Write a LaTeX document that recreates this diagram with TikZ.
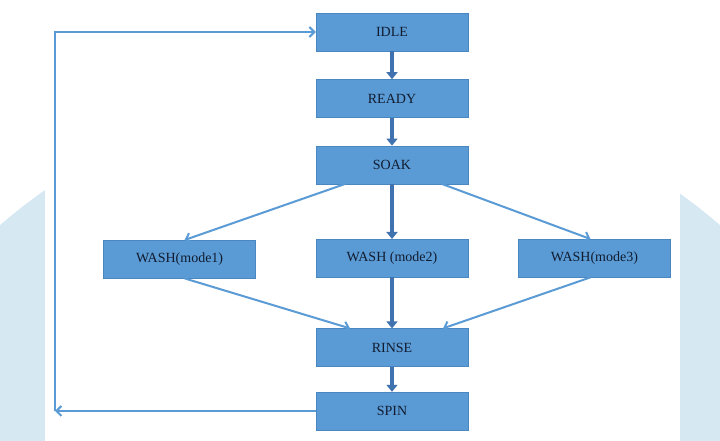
\documentclass[tikz,border=0pt]{standalone}
\usepackage{fontspec}
\setmainfont{Liberation Serif}
\usetikzlibrary{positioning}
\usetikzlibrary{arrows.meta}
\definecolor{boxblue}{HTML}{5B9BD5}
\definecolor{boxedge}{HTML}{4A86C0}
\definecolor{arrowblue}{HTML}{3F72AF}
\definecolor{textnavy}{HTML}{111C30}
\definecolor{pale}{HTML}{D6E8F1}

\begin{document}
\begin{tikzpicture}[x=1pt, y=1pt, node distance=28pt,
  every node/.style={draw=boxedge, fill=boxblue, text=textnavy, minimum width=152pt, minimum height=38pt, inner sep=0pt, font=\fontsize{14}{16}\selectfont},
  thick arrow/.style={draw=arrowblue, line width=4pt, -{Triangle[length=7pt, width=11pt]}},
  thin arrow/.style={draw=boxblue, line width=2pt, -{Straight Barb[length=5pt, width=10pt]}}]

  % Background
  \useasboundingbox (0,0) rectangle (720,441);
  \begin{scope}
    \clip (0,0) rectangle (720,441);
    \fill[pale] (360,-200) circle (550);
    \fill[white] (45,0) rectangle (680,431);
  \end{scope}

  % Nodes
  \node (idle) at (392,409) {IDLE};
  \node (ready) [below=of idle] {READY};
  \node (soak) [below=of ready] {SOAK};
  \node (wash2) [below=55pt of soak] {WASH (mode2)};
  \node (wash1) [left=60pt of wash2, yshift=-1pt] {WASH(mode1)};
  \node (wash3) [right=50pt of wash2] {WASH(mode3)};
  \node (rinse) [below=51pt of wash2] {RINSE};
  \node (spin) [below=25pt of rinse] {SPIN};

  % Arrows
  \draw[thick arrow] (idle) -- (ready);
  \draw[thick arrow] (ready) -- (soak);
  \draw[thick arrow] (soak) -- (wash2);
  \draw[thick arrow] (wash2) -- (rinse);
  \draw[thick arrow] (rinse) -- (spin);

  \draw[thin arrow] ([xshift=-47pt]soak.south) -- ([xshift=5pt]wash1.north);
  \draw[thin arrow] ([xshift=50pt]soak.south) -- ([xshift=-4pt]wash3.north);
  \draw[thin arrow] ([xshift=5pt]wash1.south) -- ([xshift=-42pt]rinse.north);
  \draw[thin arrow] ([xshift=-4pt]wash3.south) -- ([xshift=51pt]rinse.north);

  % Loop back
  \coordinate (loopT) at (55,409);
  \coordinate (loopB) at (spin.west -| loopT);
  \draw[thin arrow] (spin) -- (loopB);
  \draw[thin arrow] (loopB) -- (loopT) -- (idle);
\end{tikzpicture}
\end{document}
